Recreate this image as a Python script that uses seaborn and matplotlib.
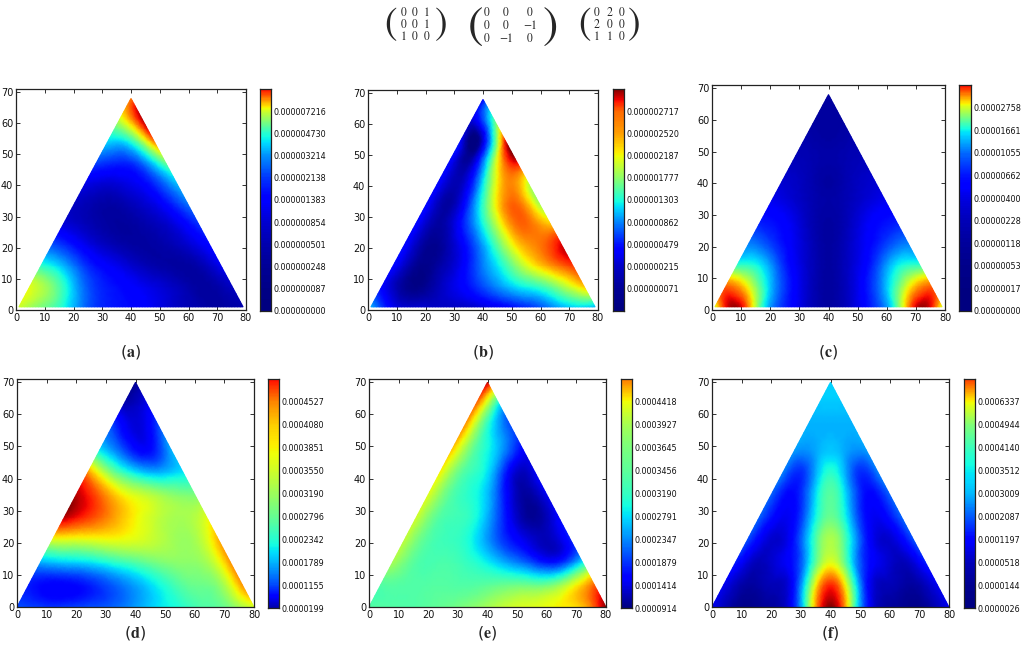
import numpy as np
import matplotlib
matplotlib.use("Agg")
import matplotlib.pyplot as plt
import matplotlib.tri as mtri
from matplotlib.colors import Normalize
import seaborn as sns

# ------------------------------------------------------------------ data
# triangle corners (left, right, apex) of the two rows of panels
TRI_TOP = [(1, 1), (79, 1), (40, 68)]
TRI_BOT = [(0, 0), (80, 0), (40, 70)]

# relative field intensity (0 = field minimum, 1 = field maximum) read at the
# nodes of a barycentric grid: rows from bottom edge to apex, left to right
rel_a = [
    [0.60, 0.50, 0.38, 0.22, 0.15, 0.13, 0.10, 0.06, 0.04, 0.03, 0.04],
    [0.62, 0.50, 0.30, 0.17, 0.13, 0.10, 0.07, 0.04, 0.03, 0.06],
    [0.40, 0.30, 0.17, 0.11, 0.07, 0.04, 0.03, 0.04, 0.10],
    [0.20, 0.13, 0.07, 0.04, 0.03, 0.04, 0.07, 0.13],
    [0.08, 0.05, 0.03, 0.03, 0.05, 0.09, 0.17],
    [0.06, 0.04, 0.04, 0.07, 0.13, 0.24],
    [0.10, 0.08, 0.10, 0.17, 0.32],
    [0.20, 0.17, 0.25, 0.50],
    [0.35, 0.42, 0.80],
    [0.60, 0.95],
    [0.78],
]
rel_b = [
    [0.30, 0.10, 0.07, 0.06, 0.06, 0.08, 0.12, 0.17, 0.25, 0.33, 0.30],
    [0.12, 0.02, 0.02, 0.08, 0.15, 0.25, 0.35, 0.42, 0.55, 0.70],
    [0.13, 0.02, 0.03, 0.10, 0.25, 0.42, 0.62, 0.75, 0.85],
    [0.13, 0.02, 0.05, 0.18, 0.42, 0.68, 0.78, 0.92],
    [0.13, 0.03, 0.13, 0.38, 0.70, 0.80, 0.70],
    [0.13, 0.03, 0.22, 0.62, 0.80, 0.55],
    [0.13, 0.05, 0.35, 0.75, 0.60],
    [0.13, 0.05, 0.55, 0.92],
    [0.12, 0.08, 0.90],
    [0.08, 0.45],
    [0.12],
]
rel_c = [
    [0.60, 0.97, 0.45, 0.17, 0.07, 0.03, 0.07, 0.17, 0.45, 0.97, 0.60],
    [0.80, 0.62, 0.30, 0.12, 0.04, 0.04, 0.12, 0.30, 0.62, 0.80],
    [0.40, 0.35, 0.17, 0.07, 0.03, 0.07, 0.17, 0.35, 0.40],
    [0.25, 0.18, 0.10, 0.04, 0.04, 0.10, 0.18, 0.25],
    [0.15, 0.12, 0.06, 0.03, 0.06, 0.12, 0.15],
    [0.10, 0.07, 0.04, 0.04, 0.07, 0.10],
    [0.07, 0.05, 0.03, 0.05, 0.07],
    [0.05, 0.04, 0.04, 0.05],
    [0.04, 0.03, 0.04],
    [0.03, 0.03],
    [0.03],
]
rel_d = [
    [0.20, 0.18, 0.18, 0.20, 0.22, 0.28, 0.35, 0.40, 0.45, 0.50, 0.60],
    [0.15, 0.12, 0.13, 0.18, 0.25, 0.33, 0.42, 0.48, 0.52, 0.75],
    [0.30, 0.33, 0.35, 0.40, 0.45, 0.50, 0.52, 0.55, 0.75],
    [0.62, 0.62, 0.63, 0.63, 0.60, 0.55, 0.55, 0.72],
    [0.95, 0.85, 0.75, 0.65, 0.58, 0.55, 0.62],
    [0.95, 0.80, 0.65, 0.58, 0.52, 0.50],
    [0.75, 0.50, 0.35, 0.30, 0.35],
    [0.35, 0.20, 0.12, 0.30],
    [0.20, 0.08, 0.20],
    [0.05, 0.10],
    [0.02],
]
rel_e = [
    [0.45, 0.45, 0.45, 0.47, 0.50, 0.55, 0.60, 0.62, 0.65, 0.70, 1.00],
    [0.45, 0.45, 0.45, 0.45, 0.45, 0.47, 0.48, 0.48, 0.60, 0.80],
    [0.55, 0.45, 0.44, 0.42, 0.36, 0.27, 0.18, 0.15, 0.35],
    [0.58, 0.45, 0.42, 0.35, 0.20, 0.10, 0.05, 0.15],
    [0.60, 0.45, 0.42, 0.30, 0.10, 0.02, 0.12],
    [0.62, 0.45, 0.38, 0.20, 0.03, 0.10],
    [0.65, 0.45, 0.35, 0.10, 0.10],
    [0.70, 0.45, 0.30, 0.12],
    [0.75, 0.40, 0.20],
    [0.80, 0.35],
    [0.95],
]
rel_f = [
    [0.10, 0.02, 0.02, 0.05, 0.45, 1.00, 0.45, 0.05, 0.02, 0.02, 0.10],
    [0.10, 0.03, 0.05, 0.15, 0.72, 0.72, 0.15, 0.05, 0.03, 0.10],
    [0.15, 0.05, 0.10, 0.30, 0.62, 0.30, 0.10, 0.05, 0.15],
    [0.20, 0.07, 0.15, 0.48, 0.48, 0.15, 0.07, 0.20],
    [0.22, 0.10, 0.25, 0.48, 0.25, 0.10, 0.22],
    [0.22, 0.13, 0.38, 0.38, 0.13, 0.22],
    [0.25, 0.20, 0.40, 0.20, 0.25],
    [0.28, 0.30, 0.30, 0.28],
    [0.30, 0.30, 0.30],
    [0.32, 0.32],
    [0.33],
]

# colour-bar tick labels (evenly spaced, non-linear values)
ticks_a = ["0.000000000", "0.000000087", "0.000000248", "0.000000501", "0.000000854",
           "0.000001383", "0.000002138", "0.000003214", "0.000004730", "0.000007216"]
ticks_b = ["0.000000071", "0.000000215", "0.000000479", "0.000000862", "0.000001303",
           "0.000001777", "0.000002187", "0.000002520", "0.000002717"]
ticks_c = ["0.00000000", "0.00000017", "0.00000053", "0.00000118", "0.00000228",
           "0.00000400", "0.00000662", "0.00001055", "0.00001661", "0.00002758"]
ticks_d = ["0.0000199", "0.0001155", "0.0001789", "0.0002342", "0.0002796",
           "0.0003190", "0.0003550", "0.0003851", "0.0004080", "0.0004527"]
ticks_e = ["0.0000914", "0.0001414", "0.0001879", "0.0002347", "0.0002791",
           "0.0003190", "0.0003456", "0.0003645", "0.0003927", "0.0004418"]
ticks_f = ["0.0000026", "0.0000144", "0.0000518", "0.0001197", "0.0002087",
           "0.0003009", "0.0003512", "0.0004140", "0.0004944", "0.0006337"]

# field range (colour scale) and value at the top of each colour bar
field_min = [0.0, 0.0, 0.0, 0.0, 0.0000914, 0.0]
field_max = [1.2e-5, 3.4e-6, 4.6e-5, 5.9e-4, 6.4e-4, 9.8e-4]
cbar_top = [1.08e-5, 3.4e-6, 4.15e-5, 5.3e-4, 5.2e-4, 8.3e-4]
first_tick = [0, 1, 0, 0, 0, 0]

panel_labels = ["a", "b", "c", "d", "e", "f"]

matrices = [
    [["0", "0", "1"], ["0", "0", "1"], ["1", "0", "0"]],
    [["0", "0", "0"], ["0", "0", "\u22121"], ["0", "\u22121", "0"]],
    [["0", "2", "0"], ["2", "0", "0"], ["1", "1", "0"]],
]

# ------------------------------------------------------------------ style
sns.set_style("ticks", {"xtick.direction": "in", "ytick.direction": "in",
                        "axes.edgecolor": "#222222"})
plt.rcParams["font.family"] = ["DejaVu Sans"]
plt.rcParams["mathtext.fontset"] = "stix"

W, H = 1024, 668
fig = plt.figure(figsize=(W / 100, H / 100), dpi=100)


def px_rect(l, t, r, b):
    return [l / W, 1 - b / H, (r - l) / W, (b - t) / H]


ax_px = [(16, 89, 246, 310), (368, 90, 598, 310), (712, 85, 945, 310),
         (17, 379, 254, 607), (369, 379, 606, 607), (712, 379, 949, 607)]
cb_px = [(260, 89, 271, 311), (613, 89, 624, 311), (959, 85, 971, 311),
         (268, 379, 279, 608), (621, 379, 632, 608), (964, 379, 975, 608)]
fields = [rel_a, rel_b, rel_c, rel_d, rel_e, rel_f]
ticks = [ticks_a, ticks_b, ticks_c, ticks_d, ticks_e, ticks_f]


def build_tri(verts, rows):
    N = len(rows) - 1
    A, B, C = (np.array(v, float) for v in verts)
    xs, ys, zs, idx = [], [], [], {}
    for j, row in enumerate(rows):
        for i, z in enumerate(row):
            p = A + (i / N) * (B - A) + (j / N) * (C - A)
            idx[(i, j)] = len(xs)
            xs.append(p[0]); ys.append(p[1]); zs.append(z)
    tris = []
    for j in range(N):
        for i in range(N - j):
            tris.append([idx[(i, j)], idx[(i + 1, j)], idx[(i, j + 1)]])
            if i < N - j - 1:
                tris.append([idx[(i + 1, j)], idx[(i + 1, j + 1)], idx[(i, j + 1)]])
    return mtri.Triangulation(xs, ys, tris), np.array(zs)


for k in range(6):
    ax = fig.add_axes(px_rect(*ax_px[k]))
    verts = TRI_TOP if k < 3 else TRI_BOT
    tri, rel = build_tri(verts, fields[k])
    vals = field_min[k] + rel * (field_max[k] - field_min[k])
    norm = Normalize(field_min[k], field_max[k])
    interp = mtri.CubicTriInterpolator(tri, vals, kind="min_E")
    refiner = mtri.UniformTriRefiner(tri)
    tri_r, z_r = refiner.refine_field(vals, triinterpolator=interp, subdiv=3)
    ax.tripcolor(tri_r, z_r, shading="gouraud", cmap="jet", norm=norm)
    ax.set_xlim(0, 80)
    ax.set_ylim(0, 71)
    ax.set_xticks(range(0, 81, 10))
    ax.set_yticks(range(0, 71, 10))
    ax.tick_params(labelsize=7, length=3, width=0.6, top=True, right=True,
                   pad=2, colors="#111111")
    for s in ax.spines.values():
        s.set_linewidth(0.9)

    # colour bar with evenly spaced ticks
    cax = fig.add_axes(px_rect(*cb_px[k]))
    tv = [float(s) for s in ticks[k]]
    pos = list(range(first_tick[k], first_tick[k] + len(tv)))
    P = ([0] if first_tick[k] > 0 else []) + pos + [10]
    V = ([field_min[k]] if first_tick[k] > 0 else []) + tv + [cbar_top[k]]
    edges = np.linspace(0, 10, 401)
    centers = 0.5 * (edges[1:] + edges[:-1])
    g = np.interp(centers, P, V)
    cax.pcolormesh([0, 1], edges, g[:, None], cmap="jet", norm=norm)
    cax.set_ylim(0, 10)
    cax.set_xlim(0, 1)
    cax.set_xticks([])
    cax.yaxis.tick_right()
    cax.set_yticks(pos)
    cax.set_yticklabels(ticks[k])
    cax.tick_params(axis="y", labelsize=5.8, length=2, width=0.5, pad=2,
                    direction="in", colors="#111111", left=False)
    for s in cax.spines.values():
        s.set_linewidth(0.9)

    l, t, r, b = ax_px[k]
    ly = 352 if k < 3 else 633
    fig.text(((l + r) / 2) / W, 1 - ly / H, r"($\mathbf{%s}$)" % panel_labels[k],
             ha="center", va="center", fontsize=11.5)

# header: the three matrices
mat_cols = [[404, 415, 427], [487, 506, 530], [597, 610, 622]]
mat_rows = [[13, 25, 37], [13, 26, 39], [13, 25, 37]]
mat_paren = [(391, 441, 25, 27), (475, 550, 27, 33), (585, 634, 25, 27)]
for m in range(3):
    for r_i in range(3):
        for c_i in range(3):
            fig.text(mat_cols[m][c_i] / W, 1 - mat_rows[m][r_i] / H,
                     matrices[m][r_i][c_i], ha="center", va="center",
                     fontsize=8.5, family="STIXGeneral")
    lx, rx, cy, fs = mat_paren[m]
    fig.text(lx / W, 1 - cy / H, "(", ha="center", va="center",
             fontsize=fs, family="STIXGeneral", fontweight="light")
    fig.text(rx / W, 1 - cy / H, ")", ha="center", va="center",
             fontsize=fs, family="STIXGeneral", fontweight="light")

fig.savefig("out.png", dpi=100)
